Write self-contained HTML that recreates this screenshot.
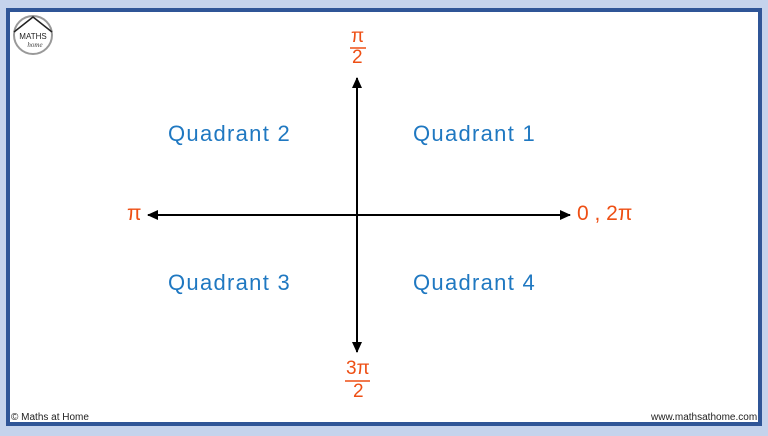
<!DOCTYPE html>
<html><head><style>
body{margin:0;width:768px;height:436px;background:#c5d3ec;position:relative;overflow:hidden;font-family:"Liberation Sans",sans-serif}
.frame{position:absolute;left:6px;top:8px;width:748px;height:410px;border:4px solid #2f5597;background:#fff}
.t{position:absolute;color:#1f78c1;font-size:22px;letter-spacing:1.3px}
.r{position:absolute;color:#ee4f14;font-size:21px}
.f{position:absolute;font-size:10px;color:#222}
</style></head><body>
<div class="frame"></div>
<svg width="768" height="436" style="position:absolute;left:0;top:0">
<defs><marker id="a" markerWidth="12" markerHeight="12" refX="10" refY="6" orient="auto" markerUnits="userSpaceOnUse"><path d="M0,1 L11,6 L0,11 Z" fill="#000"/></marker></defs>
<line x1="357" y1="350" x2="357" y2="78" stroke="#000" stroke-width="2" marker-end="url(#a)"/>
<line x1="357" y1="80" x2="357" y2="352" stroke="#000" stroke-width="2" marker-end="url(#a)"/>
<line x1="150" y1="215" x2="570" y2="215" stroke="#000" stroke-width="2" marker-end="url(#a)"/>
<line x1="568" y1="215" x2="148" y2="215" stroke="#000" stroke-width="2" marker-end="url(#a)"/>
<circle cx="33" cy="35" r="19" fill="#fff" stroke="#999" stroke-width="2"/>
<path d="M14,32 L33,17 L52,32" fill="none" stroke="#222" stroke-width="1.5"/>
<text x="33" y="39" font-size="8" text-anchor="middle" font-family="Liberation Sans" fill="#222">MATHS</text>
<text x="35" y="47" font-size="7" font-style="italic" text-anchor="middle" font-family="Liberation Serif" fill="#444">home</text>
<line x1="350" y1="48" x2="366" y2="48" stroke="#ee4f14" stroke-width="1.5"/>
<line x1="345" y1="381" x2="370" y2="381" stroke="#ee4f14" stroke-width="1.5"/>
</svg>
<div class="r" style="left:351px;top:26px;font-size:19px">π</div>
<div class="r" style="left:352px;top:47px;font-size:19px">2</div>
<div class="r" style="left:346px;top:358px;font-size:19px">3π</div>
<div class="r" style="left:353px;top:381px;font-size:19px">2</div>
<div class="r" style="left:127px;top:202px">π</div>
<div class="r" style="left:577px;top:202px">0 , 2π</div>
<div class="t" style="left:168px;top:121px">Quadrant 2</div>
<div class="t" style="left:413px;top:121px">Quadrant 1</div>
<div class="t" style="left:168px;top:270px">Quadrant 3</div>
<div class="t" style="left:413px;top:270px">Quadrant 4</div>
<div class="f" style="left:11px;top:412px">© Maths at Home</div>
<div class="f" style="left:651px;top:412px">www.mathsathome.com</div>
</body></html>
